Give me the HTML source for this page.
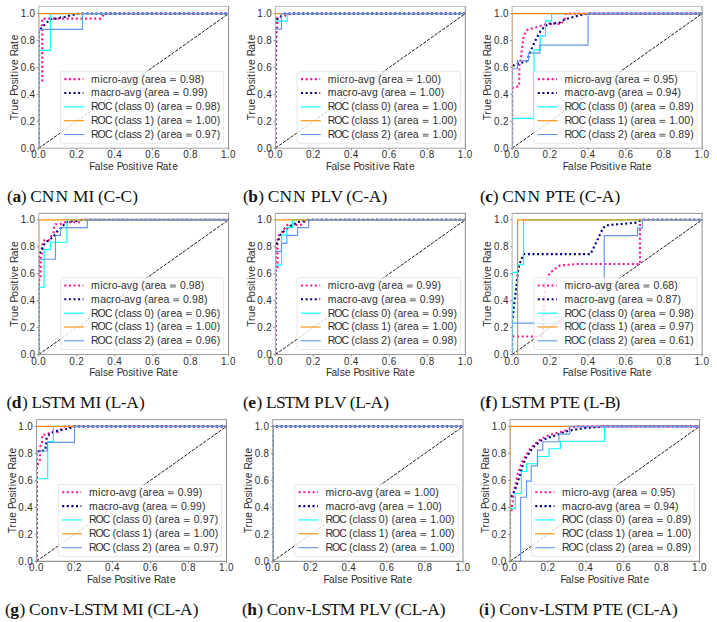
<!DOCTYPE html>
<html><head><meta charset="utf-8"><title>ROC curves</title>
<style>
html,body{margin:0;padding:0;background:#fff;}
svg{display:block;}
text{font-family:"Liberation Sans",sans-serif;font-size:10.0px;fill:#2e2e2e;}
text.tk{font-size:10.05px;}
text.cap{font-family:"Liberation Serif",serif;font-size:17.2px;fill:#111;}
</style></head><body>
<svg width="717" height="622" viewBox="0 0 717 622">
<rect width="717" height="622" fill="#fff"/>
<clipPath id="clipa"><rect x="38.8" y="6.45" width="189.8" height="141.75"/></clipPath>
<g clip-path="url(#clipa)">
<line x1="38.8" y1="148.2" x2="228.6" y2="13.6" stroke="#1a1a1a" stroke-width="1.0" stroke-dasharray="3.3 1.35"/>
<path d="M38.8,148.2 L38.8,82.25 L42.22,80.9 L42.22,18.58 L100.86,18.58 L104.28,13.6 L228.6,13.6" fill="none" stroke="#ff1493" stroke-width="2.1" stroke-dasharray="2.0 2.6"/>
<path d="M38.8,148.2 L38.8,31.1 L42.22,27.06 L45.82,23.56 L48.86,20.46 L52.09,18.58 L56.26,18.58 L60.82,17.5 L65.37,16.7 L70.12,15.48 L74.86,14.54 L79.23,13.6 L228.6,13.6" fill="none" stroke="#000080" stroke-width="2.1" stroke-dasharray="2.0 2.6"/>
<path d="M38.8,148.2 L38.8,50.35 L50.38,50.35 L50.38,13.6 L228.6,13.6" fill="none" stroke="#00ffff" stroke-width="1.15" stroke-linejoin="miter"/>
<path d="M38.8,148.2 L38.8,13.6 L228.6,13.6" fill="none" stroke="#ff8c00" stroke-width="1.15" stroke-linejoin="miter"/>
<path d="M38.8,148.2 L38.8,29.35 L82.45,29.35 L82.45,13.6 L228.6,13.6" fill="none" stroke="#6495ed" stroke-width="1.15" stroke-linejoin="miter"/>
</g>
<line x1="38.8" y1="6.45" x2="228.6" y2="6.45" stroke="#c2c2c2" stroke-width="1"/>
<line x1="38.8" y1="148.2" x2="228.6" y2="148.2" stroke="#a6a6a6" stroke-width="1"/>
<line x1="38.8" y1="5.95" x2="38.8" y2="148.7" stroke="#b0b0b0" stroke-width="1"/>
<line x1="228.6" y1="5.95" x2="228.6" y2="148.7" stroke="#8a8a8a" stroke-width="1"/>
<line x1="38.8" y1="148.2" x2="38.8" y2="150.2" stroke="#555" stroke-width="0.6"/>
<text transform="scale(0.98,1)" x="31.96 38.07 41.12" y="158.40" class="tk">0.0</text>
<line x1="36.8" y1="148.2" x2="38.8" y2="148.2" stroke="#555" stroke-width="0.6"/>
<text transform="scale(0.98,1)" x="21.07 27.17 30.22" y="151.75" class="tk">0.0</text>
<line x1="76.76" y1="148.2" x2="76.76" y2="150.2" stroke="#555" stroke-width="0.6"/>
<text transform="scale(0.98,1)" x="70.70 76.80 79.85" y="158.40" class="tk">0.2</text>
<line x1="36.8" y1="121.28" x2="38.8" y2="121.28" stroke="#555" stroke-width="0.6"/>
<text transform="scale(0.98,1)" x="21.07 27.17 30.22" y="124.83" class="tk">0.2</text>
<line x1="114.72" y1="148.2" x2="114.72" y2="150.2" stroke="#555" stroke-width="0.6"/>
<text transform="scale(0.98,1)" x="109.43 115.54 118.59" y="158.40" class="tk">0.4</text>
<line x1="36.8" y1="94.36" x2="38.8" y2="94.36" stroke="#555" stroke-width="0.6"/>
<text transform="scale(0.98,1)" x="21.07 27.17 30.22" y="97.91" class="tk">0.4</text>
<line x1="152.68" y1="148.2" x2="152.68" y2="150.2" stroke="#555" stroke-width="0.6"/>
<text transform="scale(0.98,1)" x="148.17 154.27 157.32" y="158.40" class="tk">0.6</text>
<line x1="36.8" y1="67.44" x2="38.8" y2="67.44" stroke="#555" stroke-width="0.6"/>
<text transform="scale(0.98,1)" x="21.07 27.17 30.22" y="70.99" class="tk">0.6</text>
<line x1="190.64" y1="148.2" x2="190.64" y2="150.2" stroke="#555" stroke-width="0.6"/>
<text transform="scale(0.98,1)" x="186.90 193.01 196.06" y="158.40" class="tk">0.8</text>
<line x1="36.8" y1="40.52" x2="38.8" y2="40.52" stroke="#555" stroke-width="0.6"/>
<text transform="scale(0.98,1)" x="21.07 27.17 30.22" y="44.07" class="tk">0.8</text>
<line x1="228.6" y1="148.2" x2="228.6" y2="150.2" stroke="#555" stroke-width="0.6"/>
<text transform="scale(0.98,1)" x="225.64 231.74 234.79" y="158.40" class="tk">1.0</text>
<line x1="36.8" y1="13.6" x2="38.8" y2="13.6" stroke="#555" stroke-width="0.6"/>
<text transform="scale(0.98,1)" x="21.07 27.17 30.22" y="17.15" class="tk">1.0</text>
<text transform="scale(1.015,1)" x="88.00 93.32 99.00 101.57 106.40 112.09 115.04 120.62 126.29 131.11 133.69 137.32 139.89 145.37 151.07 154.01 160.45 166.12 169.75" y="169.80">False Positive Rate</text>
<g transform="translate(17.9,77.32) rotate(-90)"><text transform="scale(1.02,1)" x="-41.99 -36.36 -32.57 -26.73 -21.06 -18.13 -12.57 -6.93 -2.13 0.43 4.04 6.60 12.06 17.72 20.65 27.06 32.71 36.32" y="0.00">True Positive Rate</text></g>
<rect x="60.5" y="71.35" width="163.2" height="71.9" rx="1.8" fill="#fff" fill-opacity="0.8" stroke="#d6d6d6" stroke-width="0.6"/>
<line x1="64.3" y1="79.15" x2="83.5" y2="79.15" stroke="#ff1493" stroke-width="2.1" stroke-dasharray="2.0 2.6"/>
<text transform="scale(1.05,1)" x="86.67 95.39 97.87 102.80 106.48 111.95 115.19 120.67 125.97 131.65 134.50 137.99 143.48 147.16 152.66 158.15 161.00 168.50 171.34 177.04 179.88 185.58 191.28" y="82.65">micro-avg (area &#160; 0.98)</text><rect x="170.04" y="78.38" width="5.88" height="0.77" fill="#2e2e2e"/><rect x="170.04" y="80.25" width="5.88" height="0.77" fill="#2e2e2e"/>
<line x1="64.3" y1="93" x2="83.5" y2="93" stroke="#000080" stroke-width="2.1" stroke-dasharray="2.0 2.6"/>
<text transform="scale(1.05,1)" x="86.67 95.39 100.87 105.80 109.48 114.95 118.18 123.67 128.97 134.65 137.50 140.99 146.47 150.16 155.66 161.15 164.00 171.50 174.34 180.04 182.88 188.58 194.28" y="96.50">macro-avg (area &#160; 0.99)</text><rect x="173.19" y="92.23" width="5.88" height="0.77" fill="#2e2e2e"/><rect x="173.19" y="94.10" width="5.88" height="0.77" fill="#2e2e2e"/>
<line x1="64" y1="106.85" x2="84.1" y2="106.85" stroke="#00ffff" stroke-width="1.1"/>
<text transform="scale(1.05,1)" x="86.67 92.89 99.93 106.18 109.03 112.52 117.45 119.93 125.42 130.08 134.75 137.59 143.29 146.78 149.63 153.12 158.61 162.29 167.79 173.28 176.13 183.63 186.47 192.17 195.01 200.71 206.41" y="110.35">ROC (class 0) (area &#160; 0.98)</text><rect x="185.93" y="106.08" width="5.88" height="0.77" fill="#2e2e2e"/><rect x="185.93" y="107.95" width="5.88" height="0.77" fill="#2e2e2e"/>
<line x1="64" y1="120.7" x2="84.1" y2="120.7" stroke="#ff8c00" stroke-width="1.1"/>
<text transform="scale(1.05,1)" x="86.67 92.89 99.93 106.18 109.03 112.52 117.45 119.93 125.42 130.08 134.75 137.59 143.29 146.78 149.63 153.12 158.61 162.29 167.79 173.28 176.13 183.63 186.47 192.17 195.01 200.71 206.41" y="124.20">ROC (class 1) (area &#160; 1.00)</text><rect x="185.93" y="119.93" width="5.88" height="0.77" fill="#2e2e2e"/><rect x="185.93" y="121.80" width="5.88" height="0.77" fill="#2e2e2e"/>
<line x1="64" y1="134.55" x2="84.1" y2="134.55" stroke="#6495ed" stroke-width="1.1"/>
<text transform="scale(1.05,1)" x="86.67 92.89 99.93 106.18 109.03 112.52 117.45 119.93 125.42 130.08 134.75 137.59 143.29 146.78 149.63 153.12 158.61 162.29 167.79 173.28 176.13 183.63 186.47 192.17 195.01 200.71 206.41" y="138.05">ROC (class 2) (area &#160; 0.97)</text><rect x="185.93" y="133.78" width="5.88" height="0.77" fill="#2e2e2e"/><rect x="185.93" y="135.65" width="5.88" height="0.77" fill="#2e2e2e"/>
<clipPath id="clipb"><rect x="275.4" y="6.45" width="189.9" height="141.75"/></clipPath>
<g clip-path="url(#clipb)">
<line x1="275.4" y1="148.2" x2="465.3" y2="13.6" stroke="#1a1a1a" stroke-width="1.0" stroke-dasharray="3.3 1.35"/>
<path d="M275.4,148.2 L275.4,80.9 L276.54,31.1 L277.3,27.06 L277.3,17.64 L284.89,15.62 L288.69,14.95 L290.59,13.6 L465.3,13.6" fill="none" stroke="#ff1493" stroke-width="2.1" stroke-dasharray="2.0 2.6"/>
<path d="M275.4,148.2 L275.4,21.68 L276.16,20.33 L279.2,17.37 L283,14.95 L284.89,13.6 L465.3,13.6" fill="none" stroke="#000080" stroke-width="2.1" stroke-dasharray="2.0 2.6"/>
<path d="M275.4,148.2 L275.4,21.14 L287.17,21.14 L287.17,13.6 L465.3,13.6" fill="none" stroke="#00ffff" stroke-width="1.15" stroke-linejoin="miter"/>
<path d="M275.4,148.2 L275.4,13.6 L465.3,13.6" fill="none" stroke="#ff8c00" stroke-width="1.15" stroke-linejoin="miter"/>
<path d="M275.4,148.2 L275.4,29.08 L281.48,29.08 L281.48,13.6 L465.3,13.6" fill="none" stroke="#6495ed" stroke-width="1.15" stroke-linejoin="miter"/>
</g>
<line x1="275.4" y1="6.45" x2="465.3" y2="6.45" stroke="#c2c2c2" stroke-width="1"/>
<line x1="275.4" y1="148.2" x2="465.3" y2="148.2" stroke="#a6a6a6" stroke-width="1"/>
<line x1="275.4" y1="5.95" x2="275.4" y2="148.7" stroke="#b0b0b0" stroke-width="1"/>
<line x1="465.3" y1="5.95" x2="465.3" y2="148.7" stroke="#8a8a8a" stroke-width="1"/>
<line x1="275.4" y1="148.2" x2="275.4" y2="150.2" stroke="#555" stroke-width="0.6"/>
<text transform="scale(0.98,1)" x="273.39 279.50 282.54" y="158.40" class="tk">0.0</text>
<line x1="273.4" y1="148.2" x2="275.4" y2="148.2" stroke="#555" stroke-width="0.6"/>
<text transform="scale(0.98,1)" x="262.50 268.60 271.65" y="151.75" class="tk">0.0</text>
<line x1="313.38" y1="148.2" x2="313.38" y2="150.2" stroke="#555" stroke-width="0.6"/>
<text transform="scale(0.98,1)" x="312.15 318.25 321.30" y="158.40" class="tk">0.2</text>
<line x1="273.4" y1="121.28" x2="275.4" y2="121.28" stroke="#555" stroke-width="0.6"/>
<text transform="scale(0.98,1)" x="262.50 268.60 271.65" y="124.83" class="tk">0.2</text>
<line x1="351.36" y1="148.2" x2="351.36" y2="150.2" stroke="#555" stroke-width="0.6"/>
<text transform="scale(0.98,1)" x="350.90 357.01 360.06" y="158.40" class="tk">0.4</text>
<line x1="273.4" y1="94.36" x2="275.4" y2="94.36" stroke="#555" stroke-width="0.6"/>
<text transform="scale(0.98,1)" x="262.50 268.60 271.65" y="97.91" class="tk">0.4</text>
<line x1="389.34" y1="148.2" x2="389.34" y2="150.2" stroke="#555" stroke-width="0.6"/>
<text transform="scale(0.98,1)" x="389.66 395.76 398.81" y="158.40" class="tk">0.6</text>
<line x1="273.4" y1="67.44" x2="275.4" y2="67.44" stroke="#555" stroke-width="0.6"/>
<text transform="scale(0.98,1)" x="262.50 268.60 271.65" y="70.99" class="tk">0.6</text>
<line x1="427.32" y1="148.2" x2="427.32" y2="150.2" stroke="#555" stroke-width="0.6"/>
<text transform="scale(0.98,1)" x="428.41 434.52 437.57" y="158.40" class="tk">0.8</text>
<line x1="273.4" y1="40.52" x2="275.4" y2="40.52" stroke="#555" stroke-width="0.6"/>
<text transform="scale(0.98,1)" x="262.50 268.60 271.65" y="44.07" class="tk">0.8</text>
<line x1="465.3" y1="148.2" x2="465.3" y2="150.2" stroke="#555" stroke-width="0.6"/>
<text transform="scale(0.98,1)" x="467.17 473.27 476.32" y="158.40" class="tk">1.0</text>
<line x1="273.4" y1="13.6" x2="275.4" y2="13.6" stroke="#555" stroke-width="0.6"/>
<text transform="scale(0.98,1)" x="262.50 268.60 271.65" y="17.15" class="tk">1.0</text>
<text transform="scale(1.015,1)" x="321.15 326.48 332.15 334.72 339.55 345.25 348.19 353.78 359.44 364.27 366.84 370.47 373.04 378.52 384.22 387.17 393.60 399.28 402.91" y="169.80">False Positive Rate</text>
<g transform="translate(254.5,77.32) rotate(-90)"><text transform="scale(1.02,1)" x="-41.99 -36.36 -32.57 -26.73 -21.06 -18.13 -12.57 -6.93 -2.13 0.43 4.04 6.60 12.06 17.72 20.65 27.06 32.71 36.32" y="0.00">True Positive Rate</text></g>
<rect x="297.2" y="71.35" width="163.2" height="71.9" rx="1.8" fill="#fff" fill-opacity="0.8" stroke="#d6d6d6" stroke-width="0.6"/>
<line x1="301" y1="79.15" x2="320.2" y2="79.15" stroke="#ff1493" stroke-width="2.1" stroke-dasharray="2.0 2.6"/>
<text transform="scale(1.05,1)" x="312.10 320.82 323.30 328.23 331.91 337.38 340.61 346.10 351.40 357.08 359.93 363.42 368.90 372.59 378.09 383.58 386.42 393.93 396.77 402.47 405.31 411.01 416.70" y="82.65">micro-avg (area &#160; 1.00)</text><rect x="406.74" y="78.38" width="5.88" height="0.77" fill="#2e2e2e"/><rect x="406.74" y="80.25" width="5.88" height="0.77" fill="#2e2e2e"/>
<line x1="301" y1="93" x2="320.2" y2="93" stroke="#000080" stroke-width="2.1" stroke-dasharray="2.0 2.6"/>
<text transform="scale(1.05,1)" x="312.10 320.82 326.30 331.22 334.90 340.38 343.61 349.10 354.40 360.08 362.92 366.42 371.90 375.58 381.09 386.58 389.42 396.92 399.77 405.47 408.31 414.01 419.70" y="96.50">macro-avg (area &#160; 1.00)</text><rect x="409.89" y="92.23" width="5.88" height="0.77" fill="#2e2e2e"/><rect x="409.89" y="94.10" width="5.88" height="0.77" fill="#2e2e2e"/>
<line x1="300.7" y1="106.85" x2="320.8" y2="106.85" stroke="#00ffff" stroke-width="1.1"/>
<text transform="scale(1.05,1)" x="312.10 318.32 325.36 331.61 334.46 337.95 342.87 345.36 350.85 355.51 360.18 363.02 368.72 372.21 375.06 378.55 384.03 387.71 393.22 398.71 401.55 409.06 411.90 417.60 420.44 426.14 431.83" y="110.35">ROC (class 0) (area &#160; 1.00)</text><rect x="422.63" y="106.08" width="5.88" height="0.77" fill="#2e2e2e"/><rect x="422.63" y="107.95" width="5.88" height="0.77" fill="#2e2e2e"/>
<line x1="300.7" y1="120.7" x2="320.8" y2="120.7" stroke="#ff8c00" stroke-width="1.1"/>
<text transform="scale(1.05,1)" x="312.10 318.32 325.36 331.61 334.46 337.95 342.87 345.36 350.85 355.51 360.18 363.02 368.72 372.21 375.06 378.55 384.03 387.71 393.22 398.71 401.55 409.06 411.90 417.60 420.44 426.14 431.83" y="124.20">ROC (class 1) (area &#160; 1.00)</text><rect x="422.63" y="119.93" width="5.88" height="0.77" fill="#2e2e2e"/><rect x="422.63" y="121.80" width="5.88" height="0.77" fill="#2e2e2e"/>
<line x1="300.7" y1="134.55" x2="320.8" y2="134.55" stroke="#6495ed" stroke-width="1.1"/>
<text transform="scale(1.05,1)" x="312.10 318.32 325.36 331.61 334.46 337.95 342.87 345.36 350.85 355.51 360.18 363.02 368.72 372.21 375.06 378.55 384.03 387.71 393.22 398.71 401.55 409.06 411.90 417.60 420.44 426.14 431.83" y="138.05">ROC (class 2) (area &#160; 1.00)</text><rect x="422.63" y="133.78" width="5.88" height="0.77" fill="#2e2e2e"/><rect x="422.63" y="135.65" width="5.88" height="0.77" fill="#2e2e2e"/>
<clipPath id="clipc"><rect x="512.1" y="6.45" width="190" height="141.75"/></clipPath>
<g clip-path="url(#clipc)">
<line x1="512.1" y1="148.2" x2="702.1" y2="13.6" stroke="#1a1a1a" stroke-width="1.0" stroke-dasharray="3.3 1.35"/>
<path d="M512.1,148.2 L512.1,88.17 L519.13,86.01 L519.51,63.81 L521.03,59.36 L521.79,49.94 L522.93,42.27 L523.5,36.48 L526.54,30.29 L530.34,28.81 L536.42,27.19 L540.98,25.71 L547.82,23.43 L553.9,23.43 L560.93,24.23 L564.73,18.85 L565.49,14.27 L567.2,13.6 L702.1,13.6" fill="none" stroke="#ff1493" stroke-width="2.1" stroke-dasharray="2.0 2.6"/>
<path d="M512.1,148.2 L512.1,66.09 L517.23,63.81 L526.35,61.38 L529.39,54.65 L532.43,46.85 L536.42,38.5 L540.22,31.64 L544.02,27.06 L547.82,24.1 L553.9,23.43 L559.6,22.62 L564.73,19.52 L572.33,17.23 L581.45,14.95 L587.53,13.6 L702.1,13.6" fill="none" stroke="#000080" stroke-width="2.1" stroke-dasharray="2.0 2.6"/>
<path d="M512.1,148.2 L512.1,118.32 L533.95,118.32 L533.95,49.94 L540.22,49.94 L540.22,35.81 L545.54,35.81 L545.54,20.87 L551.62,20.87 L551.62,13.6 L702.1,13.6" fill="none" stroke="#00ffff" stroke-width="1.15" stroke-linejoin="miter"/>
<path d="M512.1,148.2 L512.1,13.6 L702.1,13.6" fill="none" stroke="#ff8c00" stroke-width="1.15" stroke-linejoin="miter"/>
<path d="M512.1,148.2 L512.1,68.79 L517.42,68.79 L517.42,60.84 L528.63,60.84 L528.63,53.17 L539.84,53.17 L539.84,45.1 L588.1,45.1 L588.1,13.6 L702.1,13.6" fill="none" stroke="#6495ed" stroke-width="1.15" stroke-linejoin="miter"/>
</g>
<line x1="512.1" y1="6.45" x2="702.1" y2="6.45" stroke="#c2c2c2" stroke-width="1"/>
<line x1="512.1" y1="148.2" x2="702.1" y2="148.2" stroke="#a6a6a6" stroke-width="1"/>
<line x1="512.1" y1="5.95" x2="512.1" y2="148.7" stroke="#b0b0b0" stroke-width="1"/>
<line x1="702.1" y1="5.95" x2="702.1" y2="148.7" stroke="#8a8a8a" stroke-width="1"/>
<line x1="512.1" y1="148.2" x2="512.1" y2="150.2" stroke="#555" stroke-width="0.6"/>
<text transform="scale(0.98,1)" x="514.92 521.03 524.08" y="158.40" class="tk">0.0</text>
<line x1="510.1" y1="148.2" x2="512.1" y2="148.2" stroke="#555" stroke-width="0.6"/>
<text transform="scale(0.98,1)" x="504.03 510.13 513.18" y="151.75" class="tk">0.0</text>
<line x1="550.1" y1="148.2" x2="550.1" y2="150.2" stroke="#555" stroke-width="0.6"/>
<text transform="scale(0.98,1)" x="553.70 559.80 562.85" y="158.40" class="tk">0.2</text>
<line x1="510.1" y1="121.28" x2="512.1" y2="121.28" stroke="#555" stroke-width="0.6"/>
<text transform="scale(0.98,1)" x="504.03 510.13 513.18" y="124.83" class="tk">0.2</text>
<line x1="588.1" y1="148.2" x2="588.1" y2="150.2" stroke="#555" stroke-width="0.6"/>
<text transform="scale(0.98,1)" x="592.47 598.58 601.63" y="158.40" class="tk">0.4</text>
<line x1="510.1" y1="94.36" x2="512.1" y2="94.36" stroke="#555" stroke-width="0.6"/>
<text transform="scale(0.98,1)" x="504.03 510.13 513.18" y="97.91" class="tk">0.4</text>
<line x1="626.1" y1="148.2" x2="626.1" y2="150.2" stroke="#555" stroke-width="0.6"/>
<text transform="scale(0.98,1)" x="631.25 637.35 640.40" y="158.40" class="tk">0.6</text>
<line x1="510.1" y1="67.44" x2="512.1" y2="67.44" stroke="#555" stroke-width="0.6"/>
<text transform="scale(0.98,1)" x="504.03 510.13 513.18" y="70.99" class="tk">0.6</text>
<line x1="664.1" y1="148.2" x2="664.1" y2="150.2" stroke="#555" stroke-width="0.6"/>
<text transform="scale(0.98,1)" x="670.03 676.13 679.18" y="158.40" class="tk">0.8</text>
<line x1="510.1" y1="40.52" x2="512.1" y2="40.52" stroke="#555" stroke-width="0.6"/>
<text transform="scale(0.98,1)" x="504.03 510.13 513.18" y="44.07" class="tk">0.8</text>
<line x1="702.1" y1="148.2" x2="702.1" y2="150.2" stroke="#555" stroke-width="0.6"/>
<text transform="scale(0.98,1)" x="708.80 714.90 717.95" y="158.40" class="tk">1.0</text>
<line x1="510.1" y1="13.6" x2="512.1" y2="13.6" stroke="#555" stroke-width="0.6"/>
<text transform="scale(0.98,1)" x="504.03 510.13 513.18" y="17.15" class="tk">1.0</text>
<text transform="scale(1.015,1)" x="554.40 559.73 565.40 567.98 572.80 578.50 581.44 587.03 592.69 597.52 600.09 603.72 606.29 611.78 617.47 620.42 626.85 632.53 636.16" y="169.80">False Positive Rate</text>
<g transform="translate(491.2,77.32) rotate(-90)"><text transform="scale(1.02,1)" x="-41.99 -36.36 -32.57 -26.73 -21.06 -18.13 -12.57 -6.93 -2.13 0.43 4.04 6.60 12.06 17.72 20.65 27.06 32.71 36.32" y="0.00">True Positive Rate</text></g>
<rect x="534" y="71.35" width="163.2" height="71.9" rx="1.8" fill="#fff" fill-opacity="0.8" stroke="#d6d6d6" stroke-width="0.6"/>
<line x1="537.8" y1="79.15" x2="557" y2="79.15" stroke="#ff1493" stroke-width="2.1" stroke-dasharray="2.0 2.6"/>
<text transform="scale(1.05,1)" x="537.62 546.34 548.83 553.75 557.43 562.91 566.14 571.62 576.92 582.60 585.45 588.94 594.43 598.11 603.62 609.10 611.95 619.45 622.30 627.99 630.84 636.53 642.23" y="82.65">micro-avg (area &#160; 0.95)</text><rect x="643.54" y="78.38" width="5.88" height="0.77" fill="#2e2e2e"/><rect x="643.54" y="80.25" width="5.88" height="0.77" fill="#2e2e2e"/>
<line x1="537.8" y1="93" x2="557" y2="93" stroke="#000080" stroke-width="2.1" stroke-dasharray="2.0 2.6"/>
<text transform="scale(1.05,1)" x="537.62 546.34 551.83 556.75 560.43 565.91 569.14 574.62 579.92 585.60 588.45 591.94 597.43 601.11 606.62 612.10 614.95 622.45 625.29 630.99 633.84 639.53 645.23" y="96.50">macro-avg (area &#160; 0.94)</text><rect x="646.69" y="92.23" width="5.88" height="0.77" fill="#2e2e2e"/><rect x="646.69" y="94.10" width="5.88" height="0.77" fill="#2e2e2e"/>
<line x1="537.5" y1="106.85" x2="557.6" y2="106.85" stroke="#00ffff" stroke-width="1.1"/>
<text transform="scale(1.05,1)" x="537.62 543.84 550.89 557.14 559.98 563.48 568.40 570.88 576.37 581.03 585.70 588.54 594.24 597.73 600.58 604.07 609.56 613.24 618.75 624.23 627.08 634.58 637.42 643.12 645.97 651.66 657.36" y="110.35">ROC (class 0) (area &#160; 0.89)</text><rect x="659.43" y="106.08" width="5.88" height="0.77" fill="#2e2e2e"/><rect x="659.43" y="107.95" width="5.88" height="0.77" fill="#2e2e2e"/>
<line x1="537.5" y1="120.7" x2="557.6" y2="120.7" stroke="#ff8c00" stroke-width="1.1"/>
<text transform="scale(1.05,1)" x="537.62 543.84 550.89 557.14 559.98 563.48 568.40 570.88 576.37 581.03 585.70 588.54 594.24 597.73 600.58 604.07 609.56 613.24 618.75 624.23 627.08 634.58 637.42 643.12 645.97 651.66 657.36" y="124.20">ROC (class 1) (area &#160; 1.00)</text><rect x="659.43" y="119.93" width="5.88" height="0.77" fill="#2e2e2e"/><rect x="659.43" y="121.80" width="5.88" height="0.77" fill="#2e2e2e"/>
<line x1="537.5" y1="134.55" x2="557.6" y2="134.55" stroke="#6495ed" stroke-width="1.1"/>
<text transform="scale(1.05,1)" x="537.62 543.84 550.89 557.14 559.98 563.48 568.40 570.88 576.37 581.03 585.70 588.54 594.24 597.73 600.58 604.07 609.56 613.24 618.75 624.23 627.08 634.58 637.42 643.12 645.97 651.66 657.36" y="138.05">ROC (class 2) (area &#160; 0.89)</text><rect x="659.43" y="133.78" width="5.88" height="0.77" fill="#2e2e2e"/><rect x="659.43" y="135.65" width="5.88" height="0.77" fill="#2e2e2e"/>
<clipPath id="clipd"><rect x="38.8" y="213.4" width="189.8" height="141.1"/></clipPath>
<g clip-path="url(#clipd)">
<line x1="38.8" y1="354.5" x2="228.6" y2="219.8" stroke="#1a1a1a" stroke-width="1.0" stroke-dasharray="3.3 1.35"/>
<path d="M38.8,354.5 L38.8,280.42 L40.7,278.93 L40.7,260.21 L40.89,255.9 L42.41,252.8 L42.79,248.36 L42.41,243.91 L44.3,240.41 L48.67,240.41 L50.57,237.45 L53.6,232.6 L53.98,227.21 L55.5,224.25 L59.87,224.25 L65.37,222.22 L80.18,222.22 L82.07,219.8 L228.6,219.8" fill="none" stroke="#ff1493" stroke-width="2.1" stroke-dasharray="2.0 2.6"/>
<path d="M38.8,354.5 L38.8,257.52 L39.37,254.82 L40.89,250.78 L42.79,246.74 L45.25,242.7 L48.67,240.41 L53.6,236.5 L57.78,230.58 L61.2,227.88 L64.23,224.25 L67.65,221.82 L72.58,221.28 L76.95,220.88 L81.69,219.8 L228.6,219.8" fill="none" stroke="#000080" stroke-width="2.1" stroke-dasharray="2.0 2.6"/>
<path d="M38.8,354.5 L38.8,287.15 L44.11,287.15 L44.11,249.57 L50.38,249.57 L50.38,242.29 L66.89,242.29 L66.89,219.8 L228.6,219.8" fill="none" stroke="#00ffff" stroke-width="1.15" stroke-linejoin="miter"/>
<path d="M38.8,354.5 L38.8,219.8 L228.6,219.8" fill="none" stroke="#ff8c00" stroke-width="1.15" stroke-linejoin="miter"/>
<path d="M38.8,354.5 L38.8,259.27 L55.5,259.27 L55.5,235.43 L60.44,235.43 L60.44,227.61 L87.39,227.61 L87.39,219.8 L228.6,219.8" fill="none" stroke="#6495ed" stroke-width="1.15" stroke-linejoin="miter"/>
</g>
<line x1="38.8" y1="213.4" x2="228.6" y2="213.4" stroke="#8e8e8e" stroke-width="1"/>
<line x1="38.8" y1="354.5" x2="228.6" y2="354.5" stroke="#9c9c9c" stroke-width="1"/>
<line x1="38.8" y1="212.9" x2="38.8" y2="355" stroke="#b0b0b0" stroke-width="1"/>
<line x1="228.6" y1="212.9" x2="228.6" y2="355" stroke="#8a8a8a" stroke-width="1"/>
<line x1="38.8" y1="354.5" x2="38.8" y2="356.5" stroke="#555" stroke-width="0.6"/>
<text transform="scale(0.98,1)" x="31.96 38.07 41.12" y="364.70" class="tk">0.0</text>
<line x1="36.8" y1="354.5" x2="38.8" y2="354.5" stroke="#555" stroke-width="0.6"/>
<text transform="scale(0.98,1)" x="21.07 27.17 30.22" y="358.05" class="tk">0.0</text>
<line x1="76.76" y1="354.5" x2="76.76" y2="356.5" stroke="#555" stroke-width="0.6"/>
<text transform="scale(0.98,1)" x="70.70 76.80 79.85" y="364.70" class="tk">0.2</text>
<line x1="36.8" y1="327.56" x2="38.8" y2="327.56" stroke="#555" stroke-width="0.6"/>
<text transform="scale(0.98,1)" x="21.07 27.17 30.22" y="331.11" class="tk">0.2</text>
<line x1="114.72" y1="354.5" x2="114.72" y2="356.5" stroke="#555" stroke-width="0.6"/>
<text transform="scale(0.98,1)" x="109.43 115.54 118.59" y="364.70" class="tk">0.4</text>
<line x1="36.8" y1="300.62" x2="38.8" y2="300.62" stroke="#555" stroke-width="0.6"/>
<text transform="scale(0.98,1)" x="21.07 27.17 30.22" y="304.17" class="tk">0.4</text>
<line x1="152.68" y1="354.5" x2="152.68" y2="356.5" stroke="#555" stroke-width="0.6"/>
<text transform="scale(0.98,1)" x="148.17 154.27 157.32" y="364.70" class="tk">0.6</text>
<line x1="36.8" y1="273.68" x2="38.8" y2="273.68" stroke="#555" stroke-width="0.6"/>
<text transform="scale(0.98,1)" x="21.07 27.17 30.22" y="277.23" class="tk">0.6</text>
<line x1="190.64" y1="354.5" x2="190.64" y2="356.5" stroke="#555" stroke-width="0.6"/>
<text transform="scale(0.98,1)" x="186.90 193.01 196.06" y="364.70" class="tk">0.8</text>
<line x1="36.8" y1="246.74" x2="38.8" y2="246.74" stroke="#555" stroke-width="0.6"/>
<text transform="scale(0.98,1)" x="21.07 27.17 30.22" y="250.29" class="tk">0.8</text>
<line x1="228.6" y1="354.5" x2="228.6" y2="356.5" stroke="#555" stroke-width="0.6"/>
<text transform="scale(0.98,1)" x="225.64 231.74 234.79" y="364.70" class="tk">1.0</text>
<line x1="36.8" y1="219.8" x2="38.8" y2="219.8" stroke="#555" stroke-width="0.6"/>
<text transform="scale(0.98,1)" x="21.07 27.17 30.22" y="223.35" class="tk">1.0</text>
<text transform="scale(1.015,1)" x="88.00 93.32 99.00 101.57 106.40 112.09 115.04 120.62 126.29 131.11 133.69 137.32 139.89 145.37 151.07 154.01 160.45 166.12 169.75" y="376.10">False Positive Rate</text>
<g transform="translate(17.9,283.95) rotate(-90)"><text transform="scale(1.02,1)" x="-41.99 -36.36 -32.57 -26.73 -21.06 -18.13 -12.57 -6.93 -2.13 0.43 4.04 6.60 12.06 17.72 20.65 27.06 32.71 36.32" y="0.00">True Positive Rate</text></g>
<rect x="60.5" y="277.65" width="163.2" height="71.9" rx="1.8" fill="#fff" fill-opacity="0.8" stroke="#d6d6d6" stroke-width="0.6"/>
<line x1="64.3" y1="285.45" x2="83.5" y2="285.45" stroke="#ff1493" stroke-width="2.1" stroke-dasharray="2.0 2.6"/>
<text transform="scale(1.05,1)" x="86.67 95.39 97.87 102.80 106.48 111.95 115.19 120.67 125.97 131.65 134.50 137.99 143.48 147.16 152.66 158.15 161.00 168.50 171.34 177.04 179.88 185.58 191.28" y="288.95">micro-avg (area &#160; 0.98)</text><rect x="170.04" y="284.68" width="5.88" height="0.77" fill="#2e2e2e"/><rect x="170.04" y="286.55" width="5.88" height="0.77" fill="#2e2e2e"/>
<line x1="64.3" y1="299.3" x2="83.5" y2="299.3" stroke="#000080" stroke-width="2.1" stroke-dasharray="2.0 2.6"/>
<text transform="scale(1.05,1)" x="86.67 95.39 100.87 105.80 109.48 114.95 118.18 123.67 128.97 134.65 137.50 140.99 146.47 150.16 155.66 161.15 164.00 171.50 174.34 180.04 182.88 188.58 194.28" y="302.80">macro-avg (area &#160; 0.98)</text><rect x="173.19" y="298.53" width="5.88" height="0.77" fill="#2e2e2e"/><rect x="173.19" y="300.40" width="5.88" height="0.77" fill="#2e2e2e"/>
<line x1="64" y1="313.15" x2="84.1" y2="313.15" stroke="#00ffff" stroke-width="1.1"/>
<text transform="scale(1.05,1)" x="86.67 92.89 99.93 106.18 109.03 112.52 117.45 119.93 125.42 130.08 134.75 137.59 143.29 146.78 149.63 153.12 158.61 162.29 167.79 173.28 176.13 183.63 186.47 192.17 195.01 200.71 206.41" y="316.65">ROC (class 0) (area &#160; 0.96)</text><rect x="185.93" y="312.38" width="5.88" height="0.77" fill="#2e2e2e"/><rect x="185.93" y="314.25" width="5.88" height="0.77" fill="#2e2e2e"/>
<line x1="64" y1="327" x2="84.1" y2="327" stroke="#ff8c00" stroke-width="1.1"/>
<text transform="scale(1.05,1)" x="86.67 92.89 99.93 106.18 109.03 112.52 117.45 119.93 125.42 130.08 134.75 137.59 143.29 146.78 149.63 153.12 158.61 162.29 167.79 173.28 176.13 183.63 186.47 192.17 195.01 200.71 206.41" y="330.50">ROC (class 1) (area &#160; 1.00)</text><rect x="185.93" y="326.23" width="5.88" height="0.77" fill="#2e2e2e"/><rect x="185.93" y="328.10" width="5.88" height="0.77" fill="#2e2e2e"/>
<line x1="64" y1="340.85" x2="84.1" y2="340.85" stroke="#6495ed" stroke-width="1.1"/>
<text transform="scale(1.05,1)" x="86.67 92.89 99.93 106.18 109.03 112.52 117.45 119.93 125.42 130.08 134.75 137.59 143.29 146.78 149.63 153.12 158.61 162.29 167.79 173.28 176.13 183.63 186.47 192.17 195.01 200.71 206.41" y="344.35">ROC (class 2) (area &#160; 0.96)</text><rect x="185.93" y="340.08" width="5.88" height="0.77" fill="#2e2e2e"/><rect x="185.93" y="341.95" width="5.88" height="0.77" fill="#2e2e2e"/>
<clipPath id="clipe"><rect x="275.4" y="213.4" width="189.9" height="141.1"/></clipPath>
<g clip-path="url(#clipe)">
<line x1="275.4" y1="354.5" x2="465.3" y2="219.8" stroke="#1a1a1a" stroke-width="1.0" stroke-dasharray="3.3 1.35"/>
<path d="M275.4,354.5 L275.4,269.64 L277.49,268.29 L277.49,237.85 L279.2,234.89 L281.86,232.46 L283,229.5 L285.65,227.61 L287.36,224.92 L300.85,224.92 L303.32,222.09 L307.68,221.55 L309.96,219.8 L465.3,219.8" fill="none" stroke="#ff1493" stroke-width="2.1" stroke-dasharray="2.0 2.6"/>
<path d="M275.4,354.5 L275.4,248.09 L275.97,245.26 L277.87,241.35 L280.72,234.62 L283.76,231.38 L290.02,226.13 L294.39,224.11 L298.19,222.09 L303.13,221.15 L307.3,219.8 L465.3,219.8" fill="none" stroke="#000080" stroke-width="2.1" stroke-dasharray="2.0 2.6"/>
<path d="M275.4,354.5 L275.4,265.06 L281.48,265.06 L281.48,234.89 L286.79,234.89 L286.79,227.34 L292.49,227.34 L292.49,219.8 L465.3,219.8" fill="none" stroke="#00ffff" stroke-width="1.15" stroke-linejoin="miter"/>
<path d="M275.4,354.5 L275.4,219.8 L465.3,219.8" fill="none" stroke="#ff8c00" stroke-width="1.15" stroke-linejoin="miter"/>
<path d="M275.4,354.5 L275.4,251.32 L281.48,251.32 L281.48,243.37 L286.79,243.37 L286.79,235.43 L297.62,235.43 L297.62,227.61 L308.63,227.61 L308.63,219.8 L465.3,219.8" fill="none" stroke="#6495ed" stroke-width="1.15" stroke-linejoin="miter"/>
</g>
<line x1="275.4" y1="213.4" x2="465.3" y2="213.4" stroke="#8e8e8e" stroke-width="1"/>
<line x1="275.4" y1="354.5" x2="465.3" y2="354.5" stroke="#9c9c9c" stroke-width="1"/>
<line x1="275.4" y1="212.9" x2="275.4" y2="355" stroke="#b0b0b0" stroke-width="1"/>
<line x1="465.3" y1="212.9" x2="465.3" y2="355" stroke="#8a8a8a" stroke-width="1"/>
<line x1="275.4" y1="354.5" x2="275.4" y2="356.5" stroke="#555" stroke-width="0.6"/>
<text transform="scale(0.98,1)" x="273.39 279.50 282.54" y="364.70" class="tk">0.0</text>
<line x1="273.4" y1="354.5" x2="275.4" y2="354.5" stroke="#555" stroke-width="0.6"/>
<text transform="scale(0.98,1)" x="262.50 268.60 271.65" y="358.05" class="tk">0.0</text>
<line x1="313.38" y1="354.5" x2="313.38" y2="356.5" stroke="#555" stroke-width="0.6"/>
<text transform="scale(0.98,1)" x="312.15 318.25 321.30" y="364.70" class="tk">0.2</text>
<line x1="273.4" y1="327.56" x2="275.4" y2="327.56" stroke="#555" stroke-width="0.6"/>
<text transform="scale(0.98,1)" x="262.50 268.60 271.65" y="331.11" class="tk">0.2</text>
<line x1="351.36" y1="354.5" x2="351.36" y2="356.5" stroke="#555" stroke-width="0.6"/>
<text transform="scale(0.98,1)" x="350.90 357.01 360.06" y="364.70" class="tk">0.4</text>
<line x1="273.4" y1="300.62" x2="275.4" y2="300.62" stroke="#555" stroke-width="0.6"/>
<text transform="scale(0.98,1)" x="262.50 268.60 271.65" y="304.17" class="tk">0.4</text>
<line x1="389.34" y1="354.5" x2="389.34" y2="356.5" stroke="#555" stroke-width="0.6"/>
<text transform="scale(0.98,1)" x="389.66 395.76 398.81" y="364.70" class="tk">0.6</text>
<line x1="273.4" y1="273.68" x2="275.4" y2="273.68" stroke="#555" stroke-width="0.6"/>
<text transform="scale(0.98,1)" x="262.50 268.60 271.65" y="277.23" class="tk">0.6</text>
<line x1="427.32" y1="354.5" x2="427.32" y2="356.5" stroke="#555" stroke-width="0.6"/>
<text transform="scale(0.98,1)" x="428.41 434.52 437.57" y="364.70" class="tk">0.8</text>
<line x1="273.4" y1="246.74" x2="275.4" y2="246.74" stroke="#555" stroke-width="0.6"/>
<text transform="scale(0.98,1)" x="262.50 268.60 271.65" y="250.29" class="tk">0.8</text>
<line x1="465.3" y1="354.5" x2="465.3" y2="356.5" stroke="#555" stroke-width="0.6"/>
<text transform="scale(0.98,1)" x="467.17 473.27 476.32" y="364.70" class="tk">1.0</text>
<line x1="273.4" y1="219.8" x2="275.4" y2="219.8" stroke="#555" stroke-width="0.6"/>
<text transform="scale(0.98,1)" x="262.50 268.60 271.65" y="223.35" class="tk">1.0</text>
<text transform="scale(1.015,1)" x="321.15 326.48 332.15 334.72 339.55 345.25 348.19 353.78 359.44 364.27 366.84 370.47 373.04 378.52 384.22 387.17 393.60 399.28 402.91" y="376.10">False Positive Rate</text>
<g transform="translate(254.5,283.95) rotate(-90)"><text transform="scale(1.02,1)" x="-41.99 -36.36 -32.57 -26.73 -21.06 -18.13 -12.57 -6.93 -2.13 0.43 4.04 6.60 12.06 17.72 20.65 27.06 32.71 36.32" y="0.00">True Positive Rate</text></g>
<rect x="297.2" y="277.65" width="163.2" height="71.9" rx="1.8" fill="#fff" fill-opacity="0.8" stroke="#d6d6d6" stroke-width="0.6"/>
<line x1="301" y1="285.45" x2="320.2" y2="285.45" stroke="#ff1493" stroke-width="2.1" stroke-dasharray="2.0 2.6"/>
<text transform="scale(1.05,1)" x="312.10 320.82 323.30 328.23 331.91 337.38 340.61 346.10 351.40 357.08 359.93 363.42 368.90 372.59 378.09 383.58 386.42 393.93 396.77 402.47 405.31 411.01 416.70" y="288.95">micro-avg (area &#160; 0.99)</text><rect x="406.74" y="284.68" width="5.88" height="0.77" fill="#2e2e2e"/><rect x="406.74" y="286.55" width="5.88" height="0.77" fill="#2e2e2e"/>
<line x1="301" y1="299.3" x2="320.2" y2="299.3" stroke="#000080" stroke-width="2.1" stroke-dasharray="2.0 2.6"/>
<text transform="scale(1.05,1)" x="312.10 320.82 326.30 331.22 334.90 340.38 343.61 349.10 354.40 360.08 362.92 366.42 371.90 375.58 381.09 386.58 389.42 396.92 399.77 405.47 408.31 414.01 419.70" y="302.80">macro-avg (area &#160; 0.99)</text><rect x="409.89" y="298.53" width="5.88" height="0.77" fill="#2e2e2e"/><rect x="409.89" y="300.40" width="5.88" height="0.77" fill="#2e2e2e"/>
<line x1="300.7" y1="313.15" x2="320.8" y2="313.15" stroke="#00ffff" stroke-width="1.1"/>
<text transform="scale(1.05,1)" x="312.10 318.32 325.36 331.61 334.46 337.95 342.87 345.36 350.85 355.51 360.18 363.02 368.72 372.21 375.06 378.55 384.03 387.71 393.22 398.71 401.55 409.06 411.90 417.60 420.44 426.14 431.83" y="316.65">ROC (class 0) (area &#160; 0.99)</text><rect x="422.63" y="312.38" width="5.88" height="0.77" fill="#2e2e2e"/><rect x="422.63" y="314.25" width="5.88" height="0.77" fill="#2e2e2e"/>
<line x1="300.7" y1="327" x2="320.8" y2="327" stroke="#ff8c00" stroke-width="1.1"/>
<text transform="scale(1.05,1)" x="312.10 318.32 325.36 331.61 334.46 337.95 342.87 345.36 350.85 355.51 360.18 363.02 368.72 372.21 375.06 378.55 384.03 387.71 393.22 398.71 401.55 409.06 411.90 417.60 420.44 426.14 431.83" y="330.50">ROC (class 1) (area &#160; 1.00)</text><rect x="422.63" y="326.23" width="5.88" height="0.77" fill="#2e2e2e"/><rect x="422.63" y="328.10" width="5.88" height="0.77" fill="#2e2e2e"/>
<line x1="300.7" y1="340.85" x2="320.8" y2="340.85" stroke="#6495ed" stroke-width="1.1"/>
<text transform="scale(1.05,1)" x="312.10 318.32 325.36 331.61 334.46 337.95 342.87 345.36 350.85 355.51 360.18 363.02 368.72 372.21 375.06 378.55 384.03 387.71 393.22 398.71 401.55 409.06 411.90 417.60 420.44 426.14 431.83" y="344.35">ROC (class 2) (area &#160; 0.98)</text><rect x="422.63" y="340.08" width="5.88" height="0.77" fill="#2e2e2e"/><rect x="422.63" y="341.95" width="5.88" height="0.77" fill="#2e2e2e"/>
<clipPath id="clipf"><rect x="512.1" y="213.4" width="190" height="141.1"/></clipPath>
<g clip-path="url(#clipf)">
<line x1="512.1" y1="354.5" x2="702.1" y2="219.8" stroke="#1a1a1a" stroke-width="1.0" stroke-dasharray="3.3 1.35"/>
<path d="M512.1,354.5 L512.1,336.45 L542.69,336.45 L545.16,282.7 L549.15,274.22 L553.33,270.04 L559.6,265.6 L577.65,263.98 L639.97,263.98 L639.97,219.8 L702.1,219.8" fill="none" stroke="#ff1493" stroke-width="2.1" stroke-dasharray="2.0 2.6"/>
<path d="M512.1,354.5 L512.1,320.82 L513.05,315.3 L514,306.01 L514.95,297.93 L516.09,288.5 L517.04,280.42 L517.99,270.99 L518.94,266.41 L520.27,262.23 L521.98,257.92 L523.88,254.15 L590.57,254.15 L593.23,248.63 L597.03,240.81 L600.83,232.6 L602.73,228.69 L605.39,225.46 L614.51,224.51 L627.81,223.44 L636.74,222.63 L640.73,220.2 L641.3,219.8 L702.1,219.8" fill="none" stroke="#000080" stroke-width="2.1" stroke-dasharray="2.0 2.6"/>
<path d="M512.1,354.5 L512.1,272.33 L517.61,272.33 L517.61,264.79 L523.5,264.79 L523.5,219.8 L702.1,219.8" fill="none" stroke="#00ffff" stroke-width="1.15" stroke-linejoin="miter"/>
<path d="M512.1,354.5 L517.61,354.5 L517.61,219.8 L702.1,219.8" fill="none" stroke="#ff8c00" stroke-width="1.15" stroke-linejoin="miter"/>
<path d="M512.1,354.5 L512.1,323.11 L604.25,323.11 L604.25,235.69 L637.5,235.69 L637.5,228.15 L642.25,228.15 L642.25,219.8 L702.1,219.8" fill="none" stroke="#6495ed" stroke-width="1.15" stroke-linejoin="miter"/>
</g>
<line x1="512.1" y1="213.4" x2="702.1" y2="213.4" stroke="#8e8e8e" stroke-width="1"/>
<line x1="512.1" y1="354.5" x2="702.1" y2="354.5" stroke="#9c9c9c" stroke-width="1"/>
<line x1="512.1" y1="212.9" x2="512.1" y2="355" stroke="#b0b0b0" stroke-width="1"/>
<line x1="702.1" y1="212.9" x2="702.1" y2="355" stroke="#8a8a8a" stroke-width="1"/>
<line x1="512.1" y1="354.5" x2="512.1" y2="356.5" stroke="#555" stroke-width="0.6"/>
<text transform="scale(0.98,1)" x="514.92 521.03 524.08" y="364.70" class="tk">0.0</text>
<line x1="510.1" y1="354.5" x2="512.1" y2="354.5" stroke="#555" stroke-width="0.6"/>
<text transform="scale(0.98,1)" x="504.03 510.13 513.18" y="358.05" class="tk">0.0</text>
<line x1="550.1" y1="354.5" x2="550.1" y2="356.5" stroke="#555" stroke-width="0.6"/>
<text transform="scale(0.98,1)" x="553.70 559.80 562.85" y="364.70" class="tk">0.2</text>
<line x1="510.1" y1="327.56" x2="512.1" y2="327.56" stroke="#555" stroke-width="0.6"/>
<text transform="scale(0.98,1)" x="504.03 510.13 513.18" y="331.11" class="tk">0.2</text>
<line x1="588.1" y1="354.5" x2="588.1" y2="356.5" stroke="#555" stroke-width="0.6"/>
<text transform="scale(0.98,1)" x="592.47 598.58 601.63" y="364.70" class="tk">0.4</text>
<line x1="510.1" y1="300.62" x2="512.1" y2="300.62" stroke="#555" stroke-width="0.6"/>
<text transform="scale(0.98,1)" x="504.03 510.13 513.18" y="304.17" class="tk">0.4</text>
<line x1="626.1" y1="354.5" x2="626.1" y2="356.5" stroke="#555" stroke-width="0.6"/>
<text transform="scale(0.98,1)" x="631.25 637.35 640.40" y="364.70" class="tk">0.6</text>
<line x1="510.1" y1="273.68" x2="512.1" y2="273.68" stroke="#555" stroke-width="0.6"/>
<text transform="scale(0.98,1)" x="504.03 510.13 513.18" y="277.23" class="tk">0.6</text>
<line x1="664.1" y1="354.5" x2="664.1" y2="356.5" stroke="#555" stroke-width="0.6"/>
<text transform="scale(0.98,1)" x="670.03 676.13 679.18" y="364.70" class="tk">0.8</text>
<line x1="510.1" y1="246.74" x2="512.1" y2="246.74" stroke="#555" stroke-width="0.6"/>
<text transform="scale(0.98,1)" x="504.03 510.13 513.18" y="250.29" class="tk">0.8</text>
<line x1="702.1" y1="354.5" x2="702.1" y2="356.5" stroke="#555" stroke-width="0.6"/>
<text transform="scale(0.98,1)" x="708.80 714.90 717.95" y="364.70" class="tk">1.0</text>
<line x1="510.1" y1="219.8" x2="512.1" y2="219.8" stroke="#555" stroke-width="0.6"/>
<text transform="scale(0.98,1)" x="504.03 510.13 513.18" y="223.35" class="tk">1.0</text>
<text transform="scale(1.015,1)" x="554.40 559.73 565.40 567.98 572.80 578.50 581.44 587.03 592.69 597.52 600.09 603.72 606.29 611.78 617.47 620.42 626.85 632.53 636.16" y="376.10">False Positive Rate</text>
<g transform="translate(491.2,283.95) rotate(-90)"><text transform="scale(1.02,1)" x="-41.99 -36.36 -32.57 -26.73 -21.06 -18.13 -12.57 -6.93 -2.13 0.43 4.04 6.60 12.06 17.72 20.65 27.06 32.71 36.32" y="0.00">True Positive Rate</text></g>
<rect x="534" y="277.65" width="163.2" height="71.9" rx="1.8" fill="#fff" fill-opacity="0.8" stroke="#d6d6d6" stroke-width="0.6"/>
<line x1="537.8" y1="285.45" x2="557" y2="285.45" stroke="#ff1493" stroke-width="2.1" stroke-dasharray="2.0 2.6"/>
<text transform="scale(1.05,1)" x="537.62 546.34 548.83 553.75 557.43 562.91 566.14 571.62 576.92 582.60 585.45 588.94 594.43 598.11 603.62 609.10 611.95 619.45 622.30 627.99 630.84 636.53 642.23" y="288.95">micro-avg (area &#160; 0.68)</text><rect x="643.54" y="284.68" width="5.88" height="0.77" fill="#2e2e2e"/><rect x="643.54" y="286.55" width="5.88" height="0.77" fill="#2e2e2e"/>
<line x1="537.8" y1="299.3" x2="557" y2="299.3" stroke="#000080" stroke-width="2.1" stroke-dasharray="2.0 2.6"/>
<text transform="scale(1.05,1)" x="537.62 546.34 551.83 556.75 560.43 565.91 569.14 574.62 579.92 585.60 588.45 591.94 597.43 601.11 606.62 612.10 614.95 622.45 625.29 630.99 633.84 639.53 645.23" y="302.80">macro-avg (area &#160; 0.87)</text><rect x="646.69" y="298.53" width="5.88" height="0.77" fill="#2e2e2e"/><rect x="646.69" y="300.40" width="5.88" height="0.77" fill="#2e2e2e"/>
<line x1="537.5" y1="313.15" x2="557.6" y2="313.15" stroke="#00ffff" stroke-width="1.1"/>
<text transform="scale(1.05,1)" x="537.62 543.84 550.89 557.14 559.98 563.48 568.40 570.88 576.37 581.03 585.70 588.54 594.24 597.73 600.58 604.07 609.56 613.24 618.75 624.23 627.08 634.58 637.42 643.12 645.97 651.66 657.36" y="316.65">ROC (class 0) (area &#160; 0.98)</text><rect x="659.43" y="312.38" width="5.88" height="0.77" fill="#2e2e2e"/><rect x="659.43" y="314.25" width="5.88" height="0.77" fill="#2e2e2e"/>
<line x1="537.5" y1="327" x2="557.6" y2="327" stroke="#ff8c00" stroke-width="1.1"/>
<text transform="scale(1.05,1)" x="537.62 543.84 550.89 557.14 559.98 563.48 568.40 570.88 576.37 581.03 585.70 588.54 594.24 597.73 600.58 604.07 609.56 613.24 618.75 624.23 627.08 634.58 637.42 643.12 645.97 651.66 657.36" y="330.50">ROC (class 1) (area &#160; 0.97)</text><rect x="659.43" y="326.23" width="5.88" height="0.77" fill="#2e2e2e"/><rect x="659.43" y="328.10" width="5.88" height="0.77" fill="#2e2e2e"/>
<line x1="537.5" y1="340.85" x2="557.6" y2="340.85" stroke="#6495ed" stroke-width="1.1"/>
<text transform="scale(1.05,1)" x="537.62 543.84 550.89 557.14 559.98 563.48 568.40 570.88 576.37 581.03 585.70 588.54 594.24 597.73 600.58 604.07 609.56 613.24 618.75 624.23 627.08 634.58 637.42 643.12 645.97 651.66 657.36" y="344.35">ROC (class 2) (area &#160; 0.61)</text><rect x="659.43" y="340.08" width="5.88" height="0.77" fill="#2e2e2e"/><rect x="659.43" y="341.95" width="5.88" height="0.77" fill="#2e2e2e"/>
<clipPath id="clipg"><rect x="36.5" y="419.6" width="190" height="141.7"/></clipPath>
<g clip-path="url(#clipg)">
<line x1="36.5" y1="561.3" x2="226.5" y2="426.4" stroke="#1a1a1a" stroke-width="1.0" stroke-dasharray="3.3 1.35"/>
<path d="M36.5,561.3 L36.5,466.87 L39.92,459.99 L40.3,446.63 L42.01,443.26 L42.2,434.9 L46.38,434.36 L49.8,432.74 L53.6,431.53 L57.59,432.07 L61.01,429.23 L62.72,426.94 L66.52,426.4 L226.5,426.4" fill="none" stroke="#ff1493" stroke-width="2.1" stroke-dasharray="2.0 2.6"/>
<path d="M36.5,561.3 L36.5,453.38 L37.07,451.49 L41.06,450.95 L45.05,450.41 L46,445.69 L46.57,440.83 L46.57,437.6 L49.23,434.49 L53.22,432.2 L57.59,430.58 L62.15,429.77 L66.52,428.96 L71.08,427.75 L73.36,426.4 L226.5,426.4" fill="none" stroke="#000080" stroke-width="2.1" stroke-dasharray="2.0 2.6"/>
<path d="M36.5,561.3 L36.5,478.74 L47.71,478.74 L47.71,441.64 L53.41,441.64 L53.41,426.4 L226.5,426.4" fill="none" stroke="#00ffff" stroke-width="1.15" stroke-linejoin="miter"/>
<path d="M36.5,561.3 L36.5,426.4 L226.5,426.4" fill="none" stroke="#ff8c00" stroke-width="1.15" stroke-linejoin="miter"/>
<path d="M36.5,561.3 L36.5,450.95 L47.33,450.95 L47.33,442.32 L74.5,442.32 L74.5,426.4 L226.5,426.4" fill="none" stroke="#6495ed" stroke-width="1.15" stroke-linejoin="miter"/>
</g>
<line x1="36.5" y1="419.6" x2="226.5" y2="419.6" stroke="#9c9c9c" stroke-width="1"/>
<line x1="36.5" y1="561.3" x2="226.5" y2="561.3" stroke="#7a7a7a" stroke-width="1"/>
<line x1="36.5" y1="419.1" x2="36.5" y2="561.8" stroke="#a0a0a0" stroke-width="1"/>
<line x1="226.5" y1="419.1" x2="226.5" y2="561.8" stroke="#8a8a8a" stroke-width="1"/>
<line x1="36.5" y1="561.3" x2="36.5" y2="563.3" stroke="#555" stroke-width="0.6"/>
<text transform="scale(0.98,1)" x="29.62 35.72 38.77" y="571.50" class="tk">0.0</text>
<line x1="34.5" y1="561.3" x2="36.5" y2="561.3" stroke="#555" stroke-width="0.6"/>
<text transform="scale(0.98,1)" x="18.73 24.83 27.88" y="564.85" class="tk">0.0</text>
<line x1="74.5" y1="561.3" x2="74.5" y2="563.3" stroke="#555" stroke-width="0.6"/>
<text transform="scale(0.98,1)" x="68.39 74.50 77.54" y="571.50" class="tk">0.2</text>
<line x1="34.5" y1="534.32" x2="36.5" y2="534.32" stroke="#555" stroke-width="0.6"/>
<text transform="scale(0.98,1)" x="18.73 24.83 27.88" y="537.87" class="tk">0.2</text>
<line x1="112.5" y1="561.3" x2="112.5" y2="563.3" stroke="#555" stroke-width="0.6"/>
<text transform="scale(0.98,1)" x="107.17 113.27 116.32" y="571.50" class="tk">0.4</text>
<line x1="34.5" y1="507.34" x2="36.5" y2="507.34" stroke="#555" stroke-width="0.6"/>
<text transform="scale(0.98,1)" x="18.73 24.83 27.88" y="510.89" class="tk">0.4</text>
<line x1="150.5" y1="561.3" x2="150.5" y2="563.3" stroke="#555" stroke-width="0.6"/>
<text transform="scale(0.98,1)" x="145.94 152.05 155.10" y="571.50" class="tk">0.6</text>
<line x1="34.5" y1="480.36" x2="36.5" y2="480.36" stroke="#555" stroke-width="0.6"/>
<text transform="scale(0.98,1)" x="18.73 24.83 27.88" y="483.91" class="tk">0.6</text>
<line x1="188.5" y1="561.3" x2="188.5" y2="563.3" stroke="#555" stroke-width="0.6"/>
<text transform="scale(0.98,1)" x="184.72 190.82 193.87" y="571.50" class="tk">0.8</text>
<line x1="34.5" y1="453.38" x2="36.5" y2="453.38" stroke="#555" stroke-width="0.6"/>
<text transform="scale(0.98,1)" x="18.73 24.83 27.88" y="456.93" class="tk">0.8</text>
<line x1="226.5" y1="561.3" x2="226.5" y2="563.3" stroke="#555" stroke-width="0.6"/>
<text transform="scale(0.98,1)" x="223.50 229.60 232.65" y="571.50" class="tk">1.0</text>
<line x1="34.5" y1="426.4" x2="36.5" y2="426.4" stroke="#555" stroke-width="0.6"/>
<text transform="scale(0.98,1)" x="18.73 24.83 27.88" y="429.95" class="tk">1.0</text>
<text transform="scale(1.015,1)" x="85.83 91.16 96.83 99.40 104.23 109.93 112.87 118.46 124.12 128.95 131.52 135.15 137.72 143.20 148.90 151.85 158.28 163.96 167.59" y="582.90">False Positive Rate</text>
<g transform="translate(15.6,490.45) rotate(-90)"><text transform="scale(1.02,1)" x="-41.99 -36.36 -32.57 -26.73 -21.06 -18.13 -12.57 -6.93 -2.13 0.43 4.04 6.60 12.06 17.72 20.65 27.06 32.71 36.32" y="0.00">True Positive Rate</text></g>
<rect x="58.4" y="484.45" width="163.2" height="71.9" rx="1.8" fill="#fff" fill-opacity="0.8" stroke="#d6d6d6" stroke-width="0.6"/>
<line x1="62.2" y1="492.25" x2="81.4" y2="492.25" stroke="#ff1493" stroke-width="2.1" stroke-dasharray="2.0 2.6"/>
<text transform="scale(1.05,1)" x="84.67 93.39 95.87 100.80 104.48 109.95 113.19 118.67 123.97 129.65 132.50 135.99 141.48 145.16 150.66 156.15 159.00 166.50 169.34 175.04 177.88 183.58 189.28" y="495.75">micro-avg (area &#160; 0.99)</text><rect x="167.94" y="491.48" width="5.88" height="0.77" fill="#2e2e2e"/><rect x="167.94" y="493.35" width="5.88" height="0.77" fill="#2e2e2e"/>
<line x1="62.2" y1="506.1" x2="81.4" y2="506.1" stroke="#000080" stroke-width="2.1" stroke-dasharray="2.0 2.6"/>
<text transform="scale(1.05,1)" x="84.67 93.39 98.87 103.80 107.48 112.95 116.18 121.67 126.97 132.65 135.50 138.99 144.47 148.16 153.66 159.15 162.00 169.50 172.34 178.04 180.88 186.58 192.28" y="509.60">macro-avg (area &#160; 0.99)</text><rect x="171.09" y="505.33" width="5.88" height="0.77" fill="#2e2e2e"/><rect x="171.09" y="507.20" width="5.88" height="0.77" fill="#2e2e2e"/>
<line x1="61.9" y1="519.95" x2="82" y2="519.95" stroke="#00ffff" stroke-width="1.1"/>
<text transform="scale(1.05,1)" x="84.67 90.89 97.93 104.18 107.03 110.52 115.45 117.93 123.42 128.08 132.75 135.59 141.29 144.78 147.63 151.12 156.61 160.29 165.79 171.28 174.13 181.63 184.47 190.17 193.01 198.71 204.41" y="523.45">ROC (class 0) (area &#160; 0.97)</text><rect x="183.83" y="519.18" width="5.88" height="0.77" fill="#2e2e2e"/><rect x="183.83" y="521.05" width="5.88" height="0.77" fill="#2e2e2e"/>
<line x1="61.9" y1="533.8" x2="82" y2="533.8" stroke="#ff8c00" stroke-width="1.1"/>
<text transform="scale(1.05,1)" x="84.67 90.89 97.93 104.18 107.03 110.52 115.45 117.93 123.42 128.08 132.75 135.59 141.29 144.78 147.63 151.12 156.61 160.29 165.79 171.28 174.13 181.63 184.47 190.17 193.01 198.71 204.41" y="537.30">ROC (class 1) (area &#160; 1.00)</text><rect x="183.83" y="533.03" width="5.88" height="0.77" fill="#2e2e2e"/><rect x="183.83" y="534.90" width="5.88" height="0.77" fill="#2e2e2e"/>
<line x1="61.9" y1="547.65" x2="82" y2="547.65" stroke="#6495ed" stroke-width="1.1"/>
<text transform="scale(1.05,1)" x="84.67 90.89 97.93 104.18 107.03 110.52 115.45 117.93 123.42 128.08 132.75 135.59 141.29 144.78 147.63 151.12 156.61 160.29 165.79 171.28 174.13 181.63 184.47 190.17 193.01 198.71 204.41" y="551.15">ROC (class 2) (area &#160; 0.97)</text><rect x="183.83" y="546.88" width="5.88" height="0.77" fill="#2e2e2e"/><rect x="183.83" y="548.75" width="5.88" height="0.77" fill="#2e2e2e"/>
<clipPath id="cliph"><rect x="272.8" y="419.6" width="190.2" height="141.7"/></clipPath>
<g clip-path="url(#cliph)">
<line x1="272.8" y1="561.3" x2="463" y2="426.4" stroke="#1a1a1a" stroke-width="1.0" stroke-dasharray="3.3 1.35"/>
<path d="M272.8,561.3 L272.8,426.4 L463,426.4" fill="none" stroke="#ff1493" stroke-width="2.1" stroke-dasharray="2.0 2.6"/>
<path d="M272.8,561.3 L272.8,426.4 L463,426.4" fill="none" stroke="#000080" stroke-width="2.1" stroke-dasharray="2.0 2.6"/>
<path d="M272.8,561.3 L272.8,426.4 L463,426.4" fill="none" stroke="#00ffff" stroke-width="1.15" stroke-linejoin="miter"/>
<path d="M272.8,561.3 L272.8,426.4 L463,426.4" fill="none" stroke="#ff8c00" stroke-width="1.15" stroke-linejoin="miter"/>
<path d="M272.8,561.3 L272.8,426.4 L463,426.4" fill="none" stroke="#6495ed" stroke-width="1.15" stroke-linejoin="miter"/>
</g>
<line x1="272.8" y1="419.6" x2="463" y2="419.6" stroke="#9c9c9c" stroke-width="1"/>
<line x1="272.8" y1="561.3" x2="463" y2="561.3" stroke="#7a7a7a" stroke-width="1"/>
<line x1="272.8" y1="419.1" x2="272.8" y2="561.8" stroke="#a0a0a0" stroke-width="1"/>
<line x1="463" y1="419.1" x2="463" y2="561.8" stroke="#8a8a8a" stroke-width="1"/>
<line x1="272.8" y1="561.3" x2="272.8" y2="563.3" stroke="#555" stroke-width="0.6"/>
<text transform="scale(0.98,1)" x="270.74 276.84 279.89" y="571.50" class="tk">0.0</text>
<line x1="270.8" y1="561.3" x2="272.8" y2="561.3" stroke="#555" stroke-width="0.6"/>
<text transform="scale(0.98,1)" x="259.85 265.95 269.00" y="564.85" class="tk">0.0</text>
<line x1="310.84" y1="561.3" x2="310.84" y2="563.3" stroke="#555" stroke-width="0.6"/>
<text transform="scale(0.98,1)" x="309.56 315.66 318.71" y="571.50" class="tk">0.2</text>
<line x1="270.8" y1="534.32" x2="272.8" y2="534.32" stroke="#555" stroke-width="0.6"/>
<text transform="scale(0.98,1)" x="259.85 265.95 269.00" y="537.87" class="tk">0.2</text>
<line x1="348.88" y1="561.3" x2="348.88" y2="563.3" stroke="#555" stroke-width="0.6"/>
<text transform="scale(0.98,1)" x="348.37 354.48 357.52" y="571.50" class="tk">0.4</text>
<line x1="270.8" y1="507.34" x2="272.8" y2="507.34" stroke="#555" stroke-width="0.6"/>
<text transform="scale(0.98,1)" x="259.85 265.95 269.00" y="510.89" class="tk">0.4</text>
<line x1="386.92" y1="561.3" x2="386.92" y2="563.3" stroke="#555" stroke-width="0.6"/>
<text transform="scale(0.98,1)" x="387.19 393.29 396.34" y="571.50" class="tk">0.6</text>
<line x1="270.8" y1="480.36" x2="272.8" y2="480.36" stroke="#555" stroke-width="0.6"/>
<text transform="scale(0.98,1)" x="259.85 265.95 269.00" y="483.91" class="tk">0.6</text>
<line x1="424.96" y1="561.3" x2="424.96" y2="563.3" stroke="#555" stroke-width="0.6"/>
<text transform="scale(0.98,1)" x="426.01 432.11 435.16" y="571.50" class="tk">0.8</text>
<line x1="270.8" y1="453.38" x2="272.8" y2="453.38" stroke="#555" stroke-width="0.6"/>
<text transform="scale(0.98,1)" x="259.85 265.95 269.00" y="456.93" class="tk">0.8</text>
<line x1="463" y1="561.3" x2="463" y2="563.3" stroke="#555" stroke-width="0.6"/>
<text transform="scale(0.98,1)" x="464.82 470.92 473.97" y="571.50" class="tk">1.0</text>
<line x1="270.8" y1="426.4" x2="272.8" y2="426.4" stroke="#555" stroke-width="0.6"/>
<text transform="scale(0.98,1)" x="259.85 265.95 269.00" y="429.95" class="tk">1.0</text>
<text transform="scale(1.015,1)" x="318.74 324.06 329.74 332.31 337.14 342.83 345.78 351.36 357.03 361.85 364.43 368.06 370.63 376.11 381.81 384.75 391.19 396.86 400.49" y="582.90">False Positive Rate</text>
<g transform="translate(251.9,490.45) rotate(-90)"><text transform="scale(1.02,1)" x="-41.99 -36.36 -32.57 -26.73 -21.06 -18.13 -12.57 -6.93 -2.13 0.43 4.04 6.60 12.06 17.72 20.65 27.06 32.71 36.32" y="0.00">True Positive Rate</text></g>
<rect x="294.9" y="484.45" width="163.2" height="71.9" rx="1.8" fill="#fff" fill-opacity="0.8" stroke="#d6d6d6" stroke-width="0.6"/>
<line x1="298.7" y1="492.25" x2="317.9" y2="492.25" stroke="#ff1493" stroke-width="2.1" stroke-dasharray="2.0 2.6"/>
<text transform="scale(1.05,1)" x="309.90 318.63 321.11 326.03 329.72 335.19 338.42 343.91 349.21 354.89 357.74 361.23 366.71 370.39 375.90 381.39 384.23 391.74 394.58 400.28 403.12 408.82 414.51" y="495.75">micro-avg (area &#160; 1.00)</text><rect x="404.44" y="491.48" width="5.88" height="0.77" fill="#2e2e2e"/><rect x="404.44" y="493.35" width="5.88" height="0.77" fill="#2e2e2e"/>
<line x1="298.7" y1="506.1" x2="317.9" y2="506.1" stroke="#000080" stroke-width="2.1" stroke-dasharray="2.0 2.6"/>
<text transform="scale(1.05,1)" x="309.90 318.63 324.11 329.03 332.71 338.19 341.42 346.91 352.21 357.89 360.73 364.23 369.71 373.39 378.90 384.39 387.23 394.73 397.58 403.28 406.12 411.82 417.51" y="509.60">macro-avg (area &#160; 1.00)</text><rect x="407.59" y="505.33" width="5.88" height="0.77" fill="#2e2e2e"/><rect x="407.59" y="507.20" width="5.88" height="0.77" fill="#2e2e2e"/>
<line x1="298.4" y1="519.95" x2="318.5" y2="519.95" stroke="#00ffff" stroke-width="1.1"/>
<text transform="scale(1.05,1)" x="309.90 316.13 323.17 329.42 332.27 335.76 340.68 343.17 348.66 353.32 357.98 360.83 366.53 370.02 372.86 376.36 381.84 385.52 391.03 396.52 399.36 406.86 409.71 415.41 418.25 423.95 429.64" y="523.45">ROC (class 0) (area &#160; 1.00)</text><rect x="420.33" y="519.18" width="5.88" height="0.77" fill="#2e2e2e"/><rect x="420.33" y="521.05" width="5.88" height="0.77" fill="#2e2e2e"/>
<line x1="298.4" y1="533.8" x2="318.5" y2="533.8" stroke="#ff8c00" stroke-width="1.1"/>
<text transform="scale(1.05,1)" x="309.90 316.13 323.17 329.42 332.27 335.76 340.68 343.17 348.66 353.32 357.98 360.83 366.53 370.02 372.86 376.36 381.84 385.52 391.03 396.52 399.36 406.86 409.71 415.41 418.25 423.95 429.64" y="537.30">ROC (class 1) (area &#160; 1.00)</text><rect x="420.33" y="533.03" width="5.88" height="0.77" fill="#2e2e2e"/><rect x="420.33" y="534.90" width="5.88" height="0.77" fill="#2e2e2e"/>
<line x1="298.4" y1="547.65" x2="318.5" y2="547.65" stroke="#6495ed" stroke-width="1.1"/>
<text transform="scale(1.05,1)" x="309.90 316.13 323.17 329.42 332.27 335.76 340.68 343.17 348.66 353.32 357.98 360.83 366.53 370.02 372.86 376.36 381.84 385.52 391.03 396.52 399.36 406.86 409.71 415.41 418.25 423.95 429.64" y="551.15">ROC (class 2) (area &#160; 1.00)</text><rect x="420.33" y="546.88" width="5.88" height="0.77" fill="#2e2e2e"/><rect x="420.33" y="548.75" width="5.88" height="0.77" fill="#2e2e2e"/>
<clipPath id="clipi"><rect x="510" y="419.6" width="189.6" height="141.7"/></clipPath>
<g clip-path="url(#clipi)">
<line x1="510" y1="561.3" x2="699.6" y2="426.4" stroke="#1a1a1a" stroke-width="1.0" stroke-dasharray="3.3 1.35"/>
<path d="M510,561.3 L510,512.74 L511.33,511.79 L512.28,504.64 L513.03,499.92 L513.79,493.85 L514.36,488.59 L515.5,484 L516.64,479.42 L517.39,474.96 L518.34,472.54 L521.38,463.36 L525.36,456.48 L530.1,448.79 L534.65,444.21 L539.96,439.62 L545.27,436.52 L552.09,434.22 L557.4,432.74 L563.66,431.26 L570.48,428.15 L575.79,426.4 L699.6,426.4" fill="none" stroke="#ff1493" stroke-width="2.1" stroke-dasharray="2.0 2.6"/>
<path d="M510,561.3 L510,500.59 L511.9,495.2 L515.12,490.07 L516.64,485.49 L519.67,476.31 L522.7,465.52 L525.74,457.97 L529.53,452.57 L534.08,446.5 L541.66,440.29 L549.44,437.33 L557.02,435.03 L564.79,431.93 L573.9,429.64 L584.7,428.15 L597.03,427.07 L602.9,426.4 L699.6,426.4" fill="none" stroke="#000080" stroke-width="2.1" stroke-dasharray="2.0 2.6"/>
<path d="M510,561.3 L510,508.55 L515.31,508.55 L515.31,493.45 L521.38,493.45 L521.38,471.46 L526.68,471.46 L526.68,463.77 L537.49,463.77 L537.49,456.48 L549.06,456.48 L549.06,448.79 L560.43,448.79 L560.43,441.24 L604.42,441.24 L604.42,426.4 L699.6,426.4" fill="none" stroke="#00ffff" stroke-width="1.15" stroke-linejoin="miter"/>
<path d="M510,561.3 L510,426.4 L699.6,426.4" fill="none" stroke="#ff8c00" stroke-width="1.15" stroke-linejoin="miter"/>
<path d="M510,561.3 L520.62,561.3 L520.62,497.22 L526.5,497.22 L526.5,481.17 L531.24,481.17 L531.24,465.93 L537.49,465.93 L537.49,450.14 L542.8,450.14 L542.8,441.78 L558.92,441.78 L558.92,434.09 L569.72,434.09 L569.72,426.4 L699.6,426.4" fill="none" stroke="#6495ed" stroke-width="1.15" stroke-linejoin="miter"/>
</g>
<line x1="510" y1="419.6" x2="699.6" y2="419.6" stroke="#9c9c9c" stroke-width="1"/>
<line x1="510" y1="561.3" x2="699.6" y2="561.3" stroke="#7a7a7a" stroke-width="1"/>
<line x1="510" y1="419.1" x2="510" y2="561.8" stroke="#a0a0a0" stroke-width="1"/>
<line x1="699.6" y1="419.1" x2="699.6" y2="561.8" stroke="#8a8a8a" stroke-width="1"/>
<line x1="510" y1="561.3" x2="510" y2="563.3" stroke="#555" stroke-width="0.6"/>
<text transform="scale(0.98,1)" x="512.78 518.88 521.93" y="571.50" class="tk">0.0</text>
<line x1="508" y1="561.3" x2="510" y2="561.3" stroke="#555" stroke-width="0.6"/>
<text transform="scale(0.98,1)" x="501.89 507.99 511.04" y="564.85" class="tk">0.0</text>
<line x1="547.92" y1="561.3" x2="547.92" y2="563.3" stroke="#555" stroke-width="0.6"/>
<text transform="scale(0.98,1)" x="551.47 557.58 560.63" y="571.50" class="tk">0.2</text>
<line x1="508" y1="534.32" x2="510" y2="534.32" stroke="#555" stroke-width="0.6"/>
<text transform="scale(0.98,1)" x="501.89 507.99 511.04" y="537.87" class="tk">0.2</text>
<line x1="585.84" y1="561.3" x2="585.84" y2="563.3" stroke="#555" stroke-width="0.6"/>
<text transform="scale(0.98,1)" x="590.17 596.27 599.32" y="571.50" class="tk">0.4</text>
<line x1="508" y1="507.34" x2="510" y2="507.34" stroke="#555" stroke-width="0.6"/>
<text transform="scale(0.98,1)" x="501.89 507.99 511.04" y="510.89" class="tk">0.4</text>
<line x1="623.76" y1="561.3" x2="623.76" y2="563.3" stroke="#555" stroke-width="0.6"/>
<text transform="scale(0.98,1)" x="628.86 634.97 638.01" y="571.50" class="tk">0.6</text>
<line x1="508" y1="480.36" x2="510" y2="480.36" stroke="#555" stroke-width="0.6"/>
<text transform="scale(0.98,1)" x="501.89 507.99 511.04" y="483.91" class="tk">0.6</text>
<line x1="661.68" y1="561.3" x2="661.68" y2="563.3" stroke="#555" stroke-width="0.6"/>
<text transform="scale(0.98,1)" x="667.56 673.66 676.71" y="571.50" class="tk">0.8</text>
<line x1="508" y1="453.38" x2="510" y2="453.38" stroke="#555" stroke-width="0.6"/>
<text transform="scale(0.98,1)" x="501.89 507.99 511.04" y="456.93" class="tk">0.8</text>
<line x1="699.6" y1="561.3" x2="699.6" y2="563.3" stroke="#555" stroke-width="0.6"/>
<text transform="scale(0.98,1)" x="706.25 712.35 715.40" y="571.50" class="tk">1.0</text>
<line x1="508" y1="426.4" x2="510" y2="426.4" stroke="#555" stroke-width="0.6"/>
<text transform="scale(0.98,1)" x="501.89 507.99 511.04" y="429.95" class="tk">1.0</text>
<text transform="scale(1.015,1)" x="552.13 557.46 563.14 565.71 570.53 576.23 579.18 584.76 590.43 595.25 597.82 601.46 604.03 609.51 615.21 618.15 624.59 630.26 633.89" y="582.90">False Positive Rate</text>
<g transform="translate(489.1,490.45) rotate(-90)"><text transform="scale(1.02,1)" x="-41.99 -36.36 -32.57 -26.73 -21.06 -18.13 -12.57 -6.93 -2.13 0.43 4.04 6.60 12.06 17.72 20.65 27.06 32.71 36.32" y="0.00">True Positive Rate</text></g>
<rect x="531.5" y="484.45" width="163.2" height="71.9" rx="1.8" fill="#fff" fill-opacity="0.8" stroke="#d6d6d6" stroke-width="0.6"/>
<line x1="535.3" y1="492.25" x2="554.5" y2="492.25" stroke="#ff1493" stroke-width="2.1" stroke-dasharray="2.0 2.6"/>
<text transform="scale(1.05,1)" x="535.24 543.96 546.45 551.37 555.05 560.53 563.76 569.24 574.54 580.22 583.07 586.56 592.05 595.73 601.24 606.72 609.57 617.07 619.91 625.61 628.46 634.15 639.85" y="495.75">micro-avg (area &#160; 0.95)</text><rect x="641.04" y="491.48" width="5.88" height="0.77" fill="#2e2e2e"/><rect x="641.04" y="493.35" width="5.88" height="0.77" fill="#2e2e2e"/>
<line x1="535.3" y1="506.1" x2="554.5" y2="506.1" stroke="#000080" stroke-width="2.1" stroke-dasharray="2.0 2.6"/>
<text transform="scale(1.05,1)" x="535.24 543.96 549.44 554.37 558.05 563.52 566.76 572.24 577.54 583.22 586.07 589.56 595.05 598.73 604.23 609.72 612.57 620.07 622.91 628.61 631.45 637.15 642.85" y="509.60">macro-avg (area &#160; 0.94)</text><rect x="644.19" y="505.33" width="5.88" height="0.77" fill="#2e2e2e"/><rect x="644.19" y="507.20" width="5.88" height="0.77" fill="#2e2e2e"/>
<line x1="535" y1="519.95" x2="555.1" y2="519.95" stroke="#00ffff" stroke-width="1.1"/>
<text transform="scale(1.05,1)" x="535.24 541.46 548.50 554.76 557.60 561.09 566.02 568.50 573.99 578.65 583.32 586.16 591.86 595.35 598.20 601.69 607.18 610.86 616.37 621.85 624.70 632.20 635.04 640.74 643.59 649.28 654.98" y="523.45">ROC (class 0) (area &#160; 0.89)</text><rect x="656.93" y="519.18" width="5.88" height="0.77" fill="#2e2e2e"/><rect x="656.93" y="521.05" width="5.88" height="0.77" fill="#2e2e2e"/>
<line x1="535" y1="533.8" x2="555.1" y2="533.8" stroke="#ff8c00" stroke-width="1.1"/>
<text transform="scale(1.05,1)" x="535.24 541.46 548.50 554.76 557.60 561.09 566.02 568.50 573.99 578.65 583.32 586.16 591.86 595.35 598.20 601.69 607.18 610.86 616.37 621.85 624.70 632.20 635.04 640.74 643.59 649.28 654.98" y="537.30">ROC (class 1) (area &#160; 1.00)</text><rect x="656.93" y="533.03" width="5.88" height="0.77" fill="#2e2e2e"/><rect x="656.93" y="534.90" width="5.88" height="0.77" fill="#2e2e2e"/>
<line x1="535" y1="547.65" x2="555.1" y2="547.65" stroke="#6495ed" stroke-width="1.1"/>
<text transform="scale(1.05,1)" x="535.24 541.46 548.50 554.76 557.60 561.09 566.02 568.50 573.99 578.65 583.32 586.16 591.86 595.35 598.20 601.69 607.18 610.86 616.37 621.85 624.70 632.20 635.04 640.74 643.59 649.28 654.98" y="551.15">ROC (class 2) (area &#160; 0.89)</text><rect x="656.93" y="546.88" width="5.88" height="0.77" fill="#2e2e2e"/><rect x="656.93" y="548.75" width="5.88" height="0.77" fill="#2e2e2e"/>
<text class="cap" transform="scale(1.01,1)" x="7.03" y="201.70">(<tspan x="12.42" font-weight="bold">a</tspan><tspan x="20.50 25.89 29.93 41.40 54.84 68.28 72.32 87.62 93.08 97.12 102.50 113.97 119.36 130.83">) CNN MI (C-C)</tspan></text>
<text class="cap" transform="scale(1.01,1)" x="240.50" y="201.70">(<tspan x="245.88" font-weight="bold">b</tspan><tspan x="255.76 261.14 265.18 276.65 290.08 303.52 307.56 317.33 327.21 338.88 342.92 348.31 359.77 365.16 377.73">) CNN PLV (C-A)</tspan></text>
<text class="cap" transform="scale(1.01,1)" x="475.15" y="201.70">(<tspan x="480.55" font-weight="bold">c</tspan><tspan x="487.76 493.16 497.22 508.72 522.20 535.69 539.75 549.55 559.49 569.41 573.46 578.87 590.37 595.78 608.40">) CNN PTE (C-A)</tspan></text>
<text class="cap" transform="scale(1.01,1)" x="6.34" y="408.00">(<tspan x="11.76" font-weight="bold">d</tspan><tspan x="21.72 27.15 31.22 41.18 49.73 59.72 75.14 79.22 94.63 100.12 104.20 109.63 119.58 125.01 137.69">) LSTM MI (L-A)</tspan></text>
<text class="cap" transform="scale(1.01,1)" x="240.50" y="408.00">(<tspan x="245.88" font-weight="bold">e</tspan><tspan x="253.96 259.34 263.38 273.25 281.73 291.64 306.92 310.96 320.72 330.60 342.26 346.30 351.69 361.56 366.94 379.51">) LSTM PLV (L-A)</tspan></text>
<text class="cap" transform="scale(1.01,1)" x="475.15" y="408.00">(<tspan x="480.55" font-weight="bold">f</tspan><tspan x="486.86 492.26 496.32 506.23 514.75 524.69 540.04 544.09 553.89 563.84 573.75 577.80 583.21 593.12 598.52 608.43">) LSTM PTE (L-B)</tspan></text>
<text class="cap" transform="scale(1.01,1)" x="4.85" y="615.00">(<tspan x="10.26" font-weight="bold">g</tspan><tspan x="19.30 24.72 28.78 40.30 49.18 58.64 67.82 73.24 83.17 91.70 101.67 117.05 121.11 136.49 141.97 146.03 151.44 162.97 172.90 178.31 190.96">) Conv-LSTM MI (CL-A)</tspan></text>
<text class="cap" transform="scale(1.01,1)" x="239.50" y="615.00">(<tspan x="244.87" font-weight="bold">h</tspan><tspan x="254.72 260.09 264.12 275.54 284.34 293.72 302.83 308.20 318.05 326.51 336.39 351.64 355.66 365.40 375.25 386.88 390.91 396.28 407.71 417.56 422.92 435.46">) Conv-LSTM PLV (CL-A)</tspan></text>
<text class="cap" transform="scale(1.01,1)" x="474.16" y="615.00">(<tspan x="479.56" font-weight="bold">i</tspan><tspan x="484.97 490.38 494.44 505.95 514.81 524.26 533.43 538.84 548.76 557.28 567.23 582.59 586.65 596.46 606.41 616.33 620.39 625.79 637.30 647.22 652.63 665.26">) Conv-LSTM PTE (CL-A)</tspan></text>
</svg>
</body></html>
